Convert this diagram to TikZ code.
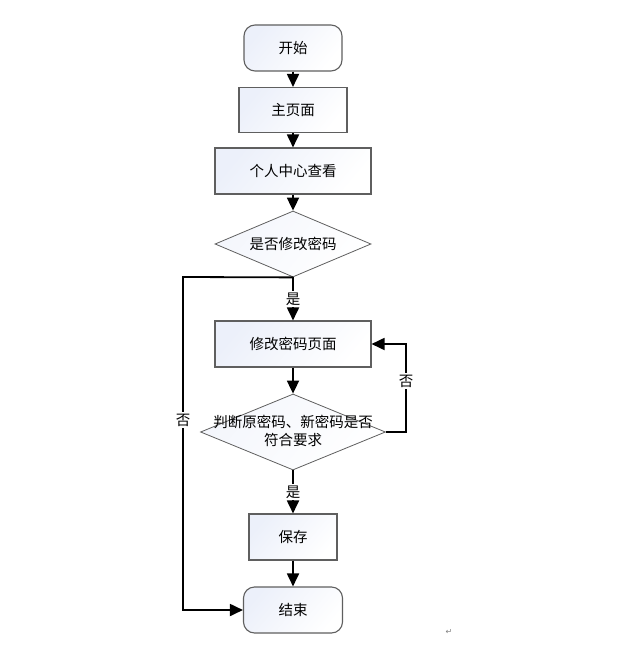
\documentclass[tikz,border=0pt]{standalone}
\usepackage{fontspec}
\newfontfamily\cjk{Noto Sans CJK SC}
\newfontfamily\dejavu{DejaVu Sans}
\usetikzlibrary{shapes.geometric,arrows.meta}
\definecolor{boxline}{RGB}{95,95,95}
\definecolor{boxfill}{RGB}{236,240,250}
\begin{document}
\begin{tikzpicture}[x=1pt,y=-1pt,
  font=\cjk\fontsize{14.5}{18}\selectfont,
  box/.style={draw=boxline, line width=1.1pt, top color=boxfill, bottom color=white, shading angle=50, inner sep=0pt},
  term/.style={box, rounded corners=11pt},
  dec/.style={diamond, draw=boxline, line width=0.8pt, top color=boxfill!60, bottom color=white, shading angle=50, inner sep=0pt},
  flow/.style={line width=1.8pt, -{Triangle[length=13pt,width=12pt]}},
  lab/.style={fill=white, inner sep=1.5pt}]
\useasboundingbox (0,0) rectangle (629,652);
\node[term, minimum width=98pt, minimum height=46pt] (start) at (293,48) {开始};
\node[box, minimum width=108pt, minimum height=45pt] (main) at (293,110) {主页面};
\node[box, minimum width=156pt, minimum height=46pt] (center) at (293,171) {个人中心查看};
\node[dec, minimum width=156pt, minimum height=66pt] (d1) at (293,244) {};
\node (d1t) at (d1) {是否修改密码};
\node[box, minimum width=156pt, minimum height=46pt] (edit) at (293,344) {修改密码页面};
\node[dec, minimum width=185pt, minimum height=76pt] (d2) at (293,432) {};
\node[align=center, inner sep=0pt] (d2t) at (293,431) {判断原密码、新密码是否\\符合要求};
\node[box, minimum width=88pt, minimum height=46pt] (save) at (293,537) {保存};
\node[term, minimum width=99pt, minimum height=46pt] (end) at (293,610) {结束};
\node[text=gray, font=\dejavu\fontsize{8}{8}\selectfont] (pm) at (449,632) {↵};

\coordinate (lt) at (183,277);
\coordinate (lb) at (183,610);
\coordinate (rb) at (406,432);
\coordinate (rt) at (406,344);

\draw[flow] (start) -- (main);
\draw[flow] (main) -- (center);
\draw[flow] (center) -- (d1);
\draw[flow] (d1.south) -- node[lab] {是} (edit.north);
\draw[flow] (edit) -- (d2.north);
\draw[flow] (d2.south) -- node[lab] {是} (save.north);
\draw[flow] (save) -- (end);
\draw[flow] (d1.south) -- (lt) -- node[lab, pos=0.43] {否} (lb) -- (end.west);
\draw[flow] (d2.east) -- (rb) -- node[lab, pos=0.58] {否} (rt) -- (edit.east);
\end{tikzpicture}
\end{document}
